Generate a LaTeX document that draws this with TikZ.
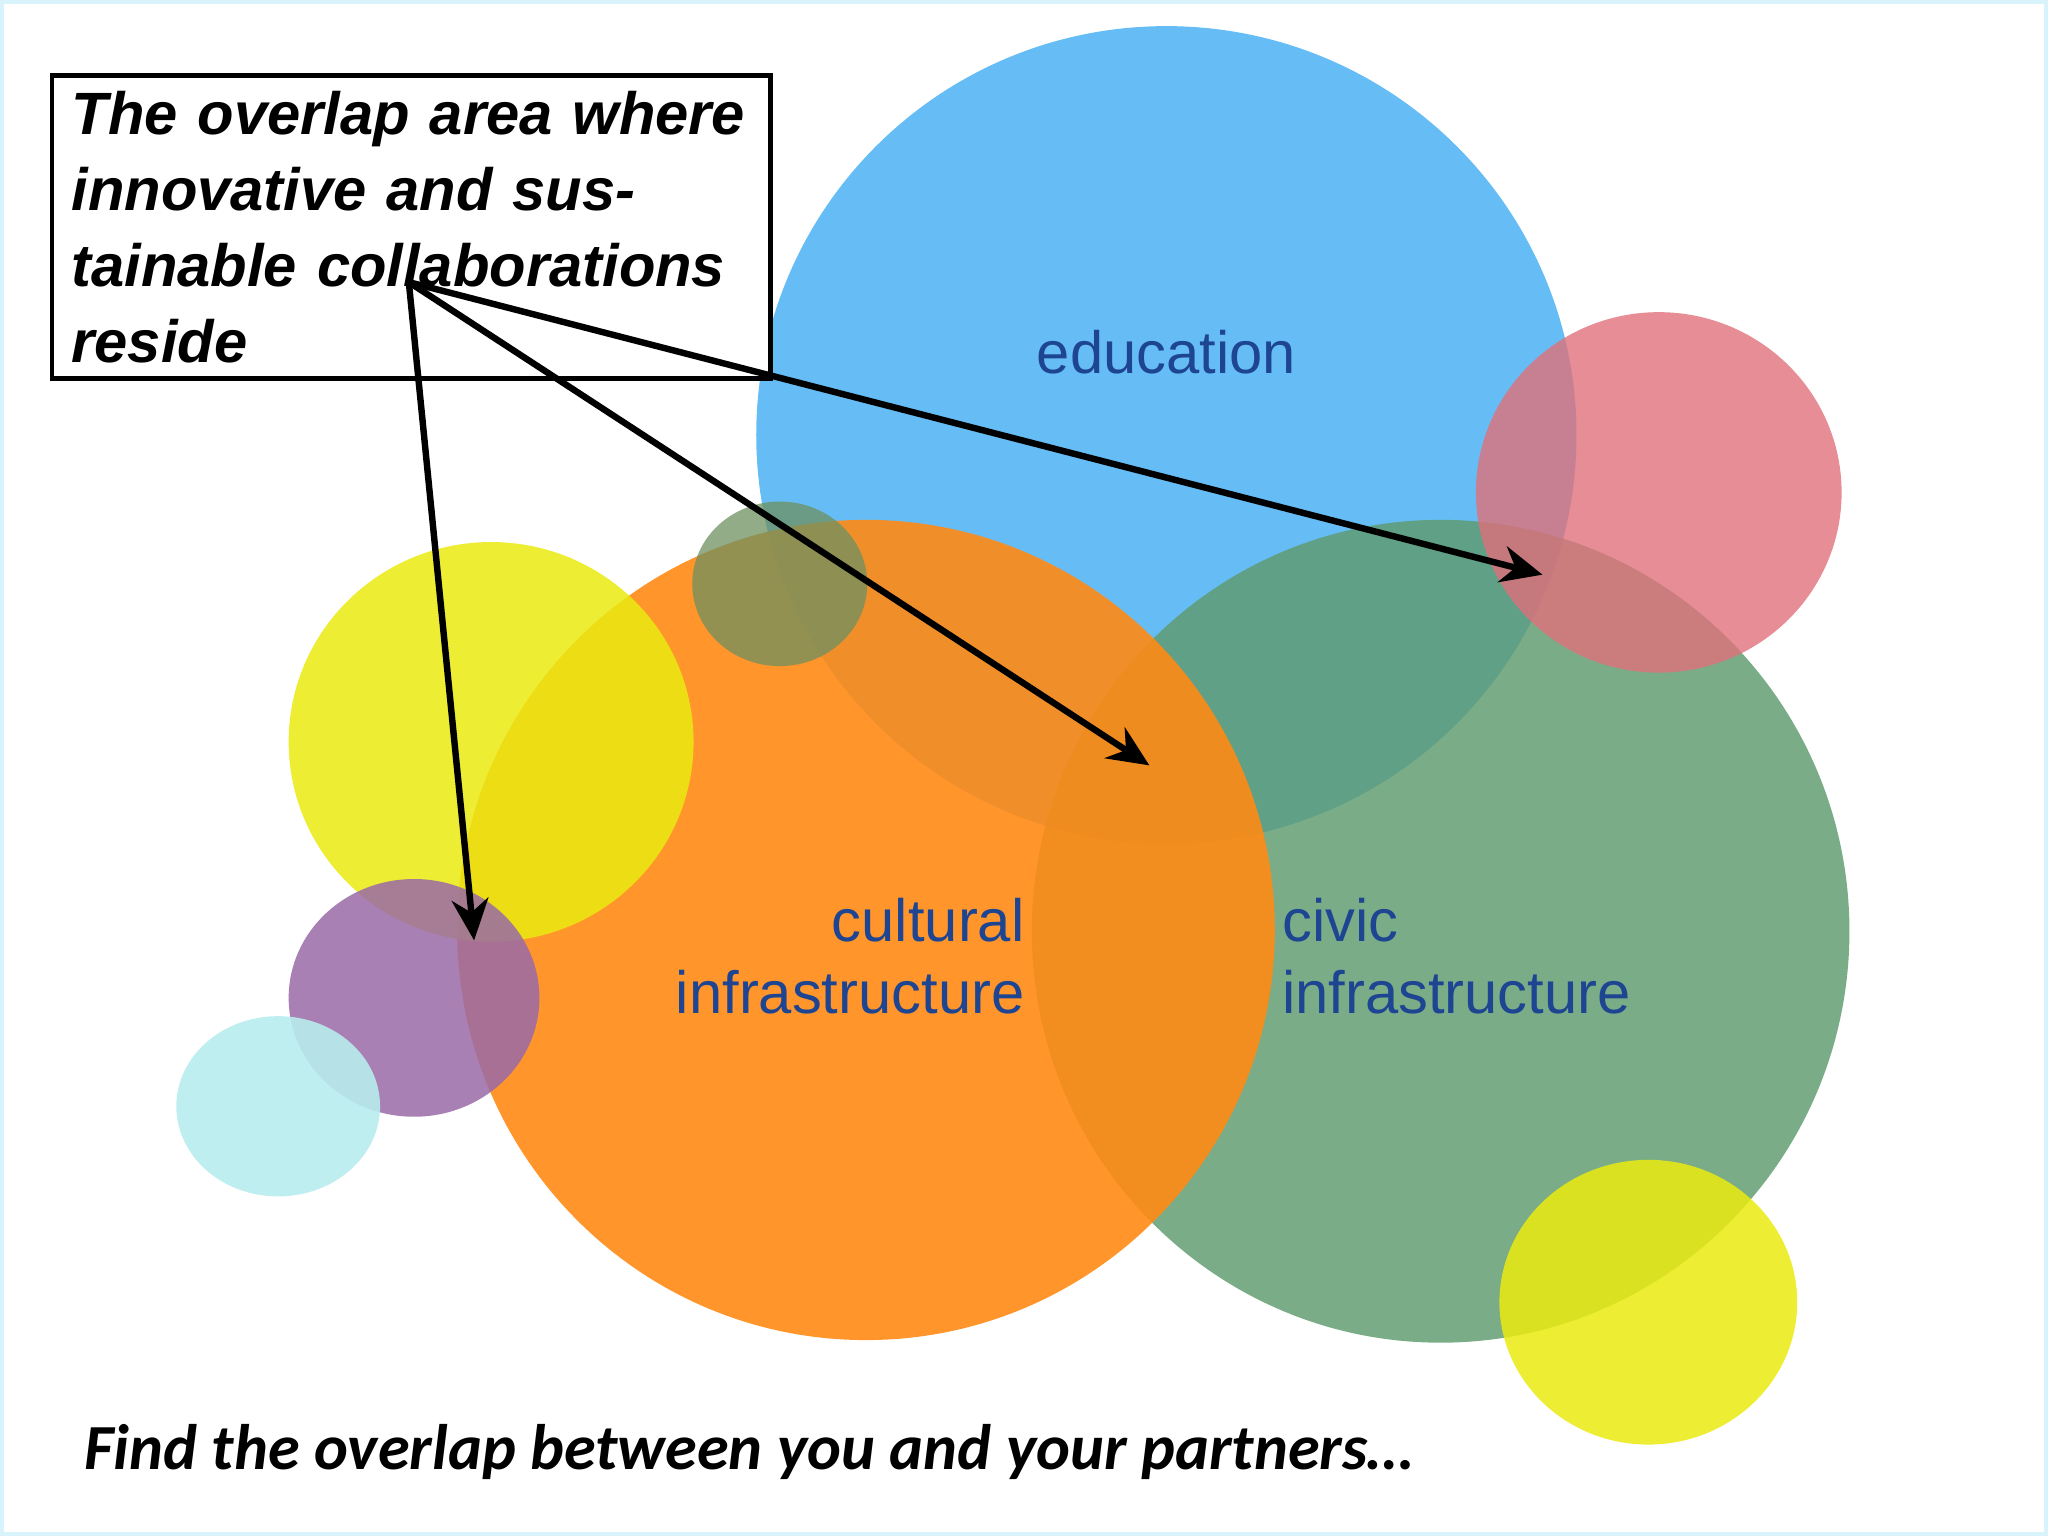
\documentclass[tikz,border=0pt]{standalone}
\usepackage{fontspec}
\setmainfont{Liberation Sans}
\newfontfamily\calib{Carlito}
\usetikzlibrary{arrows.meta}
\definecolor{edublue}{HTML}{66BDF5}
\definecolor{civgreen}{HTML}{5E9A6E}
\definecolor{culorange}{HTML}{FF8A14}
\definecolor{pinkc}{HTML}{E0707A}
\definecolor{olivec}{HTML}{6E9060}
\definecolor{yellowc}{HTML}{EAEA10}
\definecolor{purplec}{HTML}{9A6AA6}
\definecolor{cyanc}{HTML}{B8ECEE}
\definecolor{labblue}{HTML}{1E4592}
\tikzset{
  lab/.style={text=labblue,font=\fontsize{13}{15.5}\selectfont,inner sep=0pt},
  arr/.style={-{Stealth[length=9pt,width=8pt]},line width=1.4pt,black},
}
\begin{document}
\begin{tikzpicture}[x=0.01cm,y=-0.01cm]
\path[use as bounding box] (0,0) rectangle (1568,1176);
\draw[cyan!15,line width=1pt] (1,1) rectangle (1567,1175);
\fill[edublue] (893,333) ellipse [x radius=314,y radius=313];
\fill[civgreen,opacity=0.82] (1103,713) ellipse [x radius=313,y radius=315];
\fill[culorange,opacity=0.9] (663,712) ellipse [x radius=313,y radius=314];
\fill[pinkc,opacity=0.8] (1270,377) ellipse [x radius=140,y radius=138];
\fill[olivec,opacity=0.75] (597,447) ellipse [x radius=67,y radius=63];
\fill[yellowc,opacity=0.85] (376,568) ellipse [x radius=155,y radius=153];
\fill[purplec,opacity=0.85] (317,764) ellipse [x radius=96,y radius=91];
\fill[cyanc,opacity=0.9] (213,847) ellipse [x radius=78,y radius=69];
\fill[yellowc,opacity=0.85] (1262,997) ellipse [x radius=114,y radius=109];
\node[lab] (edu) at (893,270) {education};
\node[lab,anchor=east,align=right] (cul) at (785,732) {cultural\\infrastructure};
\node[lab,anchor=west,align=left] (civ) at (981,732) {civic\\infrastructure};
\node[draw,line width=1pt,fill=white,anchor=north west,minimum width=5.5cm,minimum height=1.58cm,align=left,text width=5.2cm,font=\fontsize{13}{16.6}\selectfont\bfseries\itshape] (box) at (38,56) {The overlap area where innovative and sustainable collaborations reside};
\coordinate (src) at (313,216);
\coordinate (t1) at (363,720);
\coordinate (t2) at (880,586);
\coordinate (t3) at (1181,440);
\draw[arr] (src) -- (t1);
\draw[arr] (src) -- (t2);
\draw[arr] (src) -- (t3);
\node[anchor=west,font=\calib\fontsize{14}{16}\selectfont\bfseries\itshape] (foot) at (52,1112) {Find the overlap between you and your partners…};
\end{tikzpicture}
\end{document}
